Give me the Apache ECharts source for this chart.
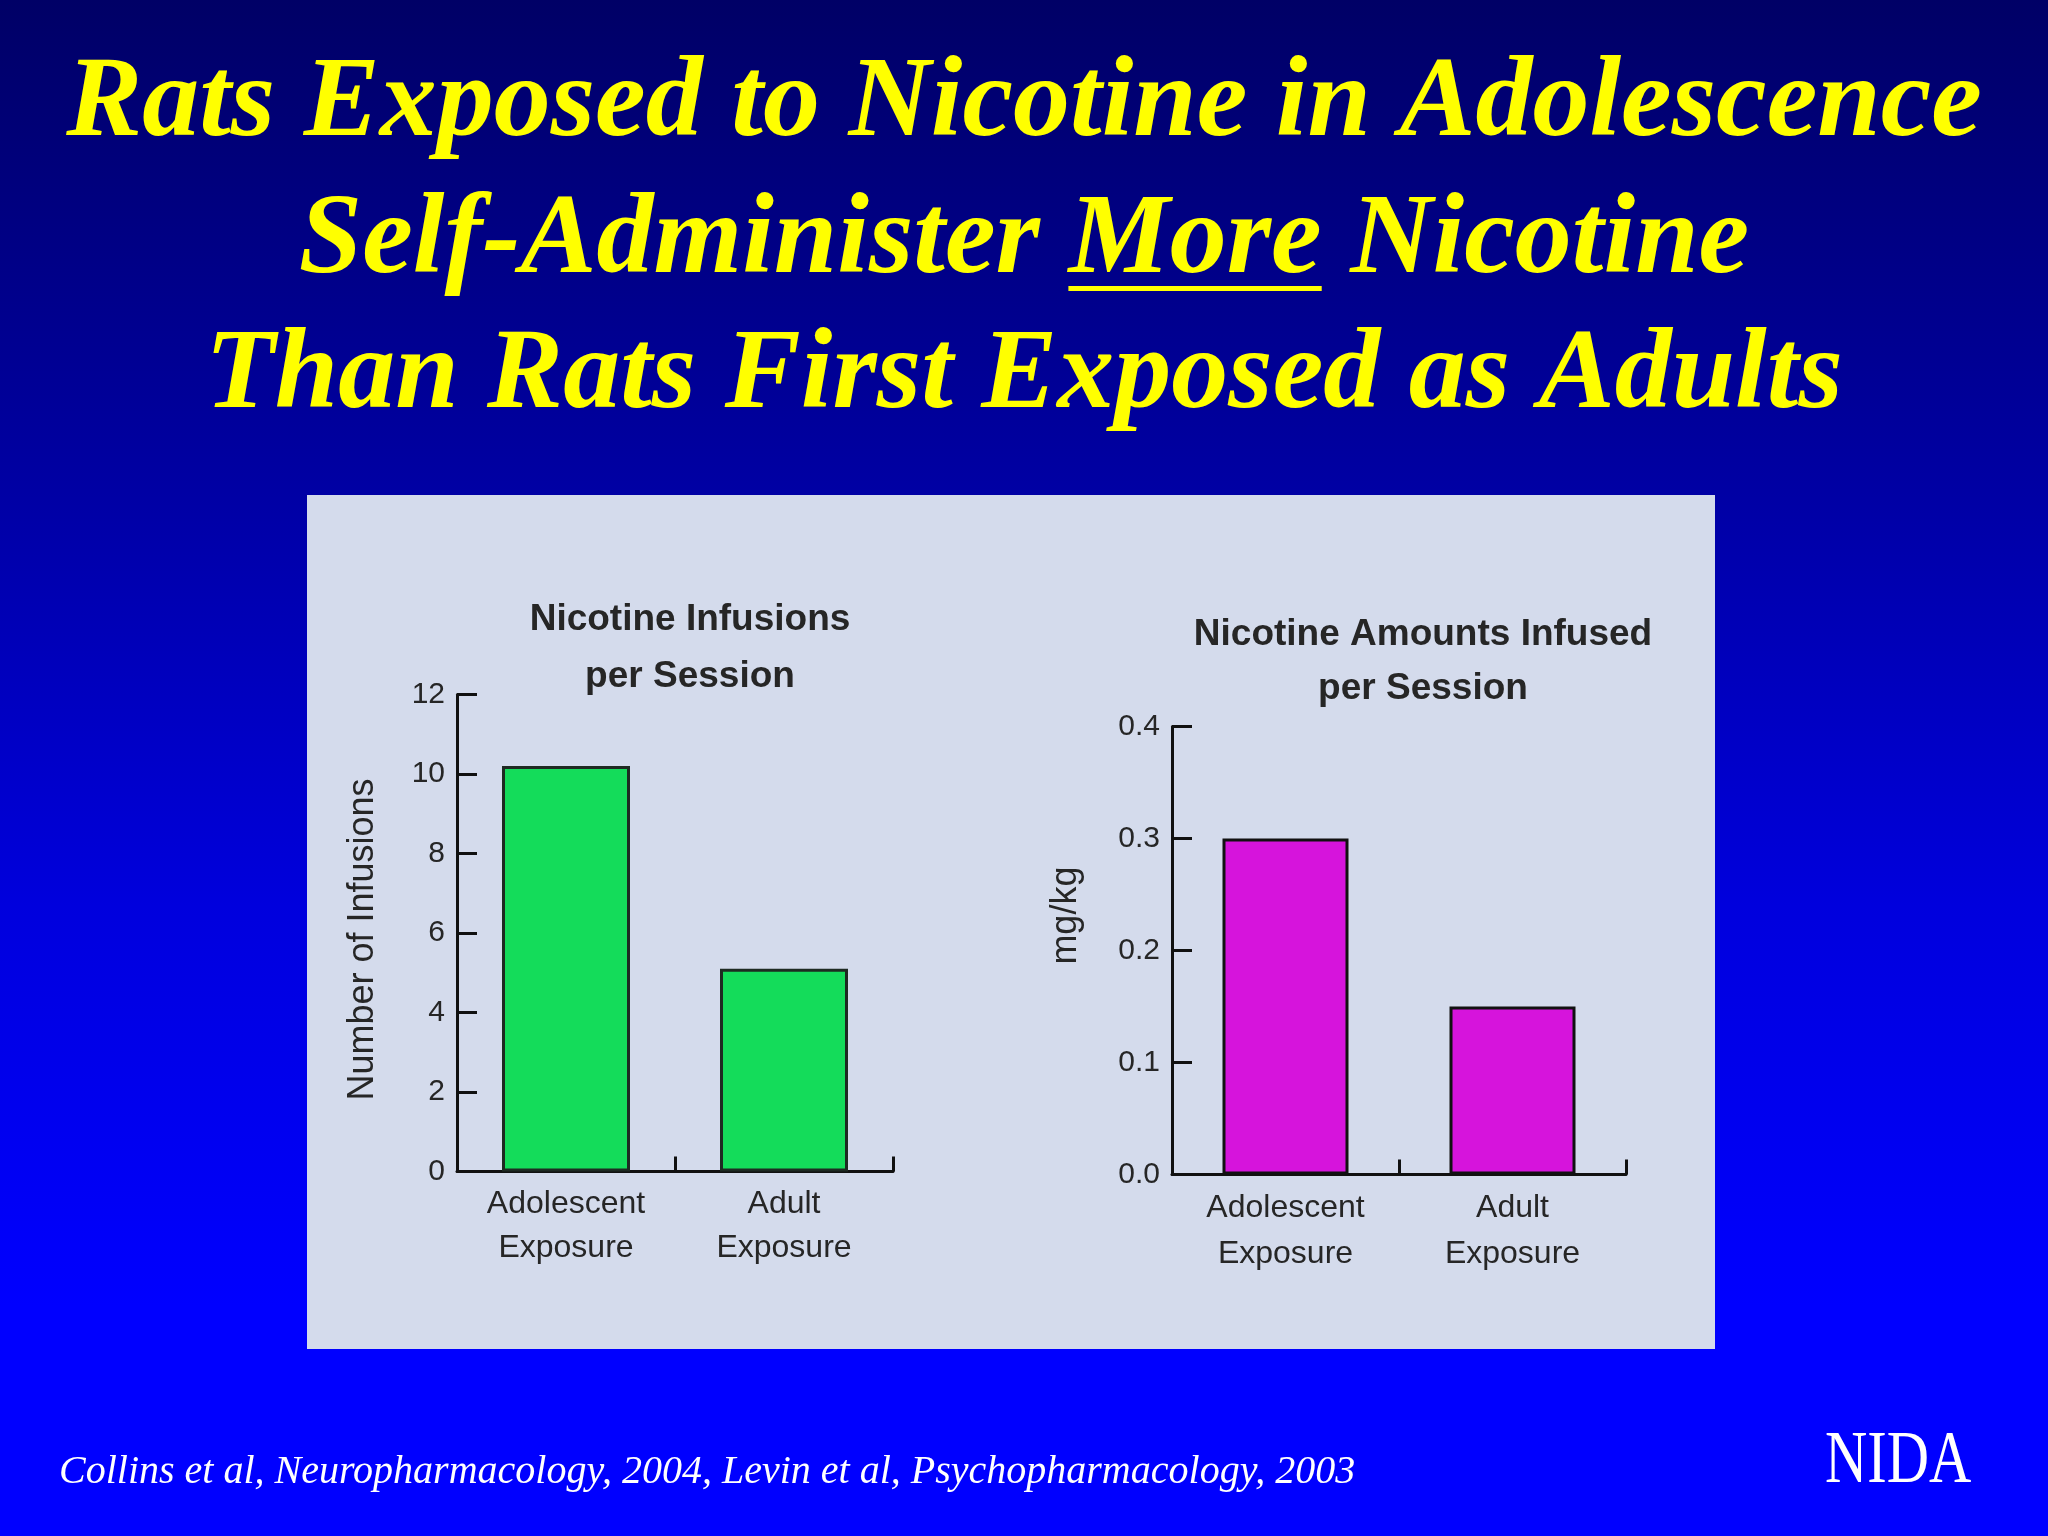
<!DOCTYPE html>
<html><head><meta charset="utf-8">
<script src="https://cdn.jsdelivr.net/npm/echarts@6/dist/echarts.min.js"></script>
<style>html,body{margin:0;padding:0;background:#0000a0;}#c{width:2048px;height:1536px;}</style>
</head><body><div id="c"></div>
<script>
// ---- data ----
const categories = ['Adolescent\nExposure', 'Adult\nExposure'];
const infusionsPerSession = [10.2, 5.1];
const mgPerKg = [0.30, 0.15];
const leftTitle = ['Nicotine Infusions', 'per Session'];
const rightTitle = ['Nicotine Amounts Infused', 'per Session'];
const leftYName = 'Number of Infusions';
const rightYName = 'mg/kg';
const slideTitle = ['Rats Exposed to Nicotine in Adolescence', 'Self-Administer ', 'More', ' Nicotine', 'Than Rats First Exposed as Adults'];
const footer = 'Collins et al, Neuropharmacology, 2004, Levin et al, Psychopharmacology, 2003';
const logo = 'NIDA';

// ---- styles ----
const SANS = "'Liberation Sans', Arial, sans-serif";
const SERIF = "'Liberation Serif', 'Times New Roman', serif";
const TXT = '#262626';
const TFS = 114;
const titleFont = 'italic bold ' + TFS + 'px ' + SERIF;

const cv = document.createElement('canvas').getContext('2d');
cv.font = titleFont;
const w1 = cv.measureText(slideTitle[1]).width;
const w2 = cv.measureText(slideTitle[2]).width;
const w3 = cv.measureText(slideTitle[3]).width;
const line2W = w1 + w2 + w3;
const line2Start = 1024 - line2W / 2;

function txt(x, y, text, font, fill, align, extra) {
  return Object.assign({
    type: 'text', x: x, y: y, z: 5,
    style: { text: text, font: font, fill: fill, align: align || 'center', verticalAlign: 'middle',
      textAlign: align || 'center', textVerticalAlign: 'middle' }
  }, extra || {});
}

const graphics = [
  { type: 'rect', z: -10, shape: { x: 0, y: 0, width: 2048, height: 1536 },
    style: { fill: new echarts.graphic.LinearGradient(0, 0, 0, 1, [
      { offset: 0, color: '#000066' }, { offset: 0.33, color: '#0000a6' },
      { offset: 0.59, color: '#0000dd' }, { offset: 0.85, color: '#0000ff' }, { offset: 1, color: '#0000ff' }]) } },
  { type: 'rect', z: -9, shape: { x: 307, y: 495, width: 1408, height: 854 }, style: { fill: '#d4dbec' } },
  txt(1024, 141 - 0.31 * TFS, slideTitle[0], titleFont, '#ffff00'),
  txt(1024, 278 - 0.31 * TFS, slideTitle[1] + slideTitle[2] + slideTitle[3], titleFont, '#ffff00'),
  { type: 'rect', z: 5, shape: { x: line2Start + w1, y: 286, width: w2, height: 5 }, style: { fill: '#ffff00' } },
  txt(1024, 413 - 0.31 * TFS, slideTitle[4], titleFont, '#ffff00'),
  txt(690, 631 - 11.5, leftTitle[0], 'bold 37px ' + SANS, TXT),
  txt(690, 688 - 11.5, leftTitle[1], 'bold 37px ' + SANS, TXT),
  txt(1423, 646 - 11.5, rightTitle[0], 'bold 37px ' + SANS, TXT),
  txt(1423, 700 - 11.5, rightTitle[1], 'bold 37px ' + SANS, TXT),
  txt(59, 1485 - 12.4, footer, 'italic 40px ' + SERIF, '#ffffff', 'left'),
  txt(0, 0, logo, '75px ' + SERIF, '#ffffff', 'left', { x: 1825, y: 1485 - 23, scaleX: 0.78 })
];

const axisLine = { show: true, lineStyle: { color: '#111', width: 3 } };
const yTick = { show: true, inside: true, length: 20, lineStyle: { color: '#111', width: 3 } };
const xTick = { show: true, inside: true, length: 15, interval: 0, lineStyle: { color: '#111', width: 3 } };
const yLabel = { fontFamily: SANS, fontSize: 30, color: TXT, margin: 12 };
const xLabel = { fontFamily: SANS, fontSize: 32, color: TXT, lineHeight: 44, margin: 11, interval: 0 };

const option = {
  animation: false,
  backgroundColor: 'transparent',
  graphic: { elements: graphics },
  grid: [
    { left: 457, top: 694.5, width: 436, height: 477 },
    { left: 1172, top: 726.6, width: 454, height: 448 }
  ],
  xAxis: [
    { type: 'category', gridIndex: 0, data: categories, axisLine: axisLine, axisTick: xTick, axisLabel: xLabel, splitLine: { show: false } },
    { type: 'category', gridIndex: 1, data: categories, axisLine: axisLine, axisTick: xTick, axisLabel: Object.assign({}, xLabel, { lineHeight: 46 }), splitLine: { show: false } }
  ],
  yAxis: [
    { type: 'value', gridIndex: 0, min: 0, max: 12, interval: 2, axisLine: axisLine, axisTick: yTick, axisLabel: yLabel,
      splitLine: { show: false }, name: leftYName, nameLocation: 'middle', nameRotate: 90, nameGap: 76,
      nameTextStyle: { fontFamily: SANS, fontSize: 36, color: TXT, padding: [0, 13, 0, 0] } },
    { type: 'value', gridIndex: 1, min: 0, max: 0.4, interval: 0.1, axisLine: axisLine, axisTick: yTick,
      axisLabel: Object.assign({}, yLabel, { formatter: v => v.toFixed(1) }),
      splitLine: { show: false }, name: rightYName, nameLocation: 'middle', nameRotate: 90, nameGap: 88,
      nameTextStyle: { fontFamily: SANS, fontSize: 36, color: TXT, padding: [0, 0, 0, 70] } }
  ],
  series: [
    { type: 'bar', xAxisIndex: 0, yAxisIndex: 0, data: infusionsPerSession, barWidth: 128,
      itemStyle: { color: '#14dc5a', borderColor: '#1e2a22', borderWidth: 3 } },
    { type: 'bar', xAxisIndex: 1, yAxisIndex: 1, data: mgPerKg, barWidth: 126,
      itemStyle: { color: '#d614dc', borderColor: '#111', borderWidth: 3 } }
  ]
};
const chart = echarts.init(document.getElementById('c'), null, { renderer: 'canvas', width: 2048, height: 1536 });
chart.setOption(option);
</script>
</body></html>
